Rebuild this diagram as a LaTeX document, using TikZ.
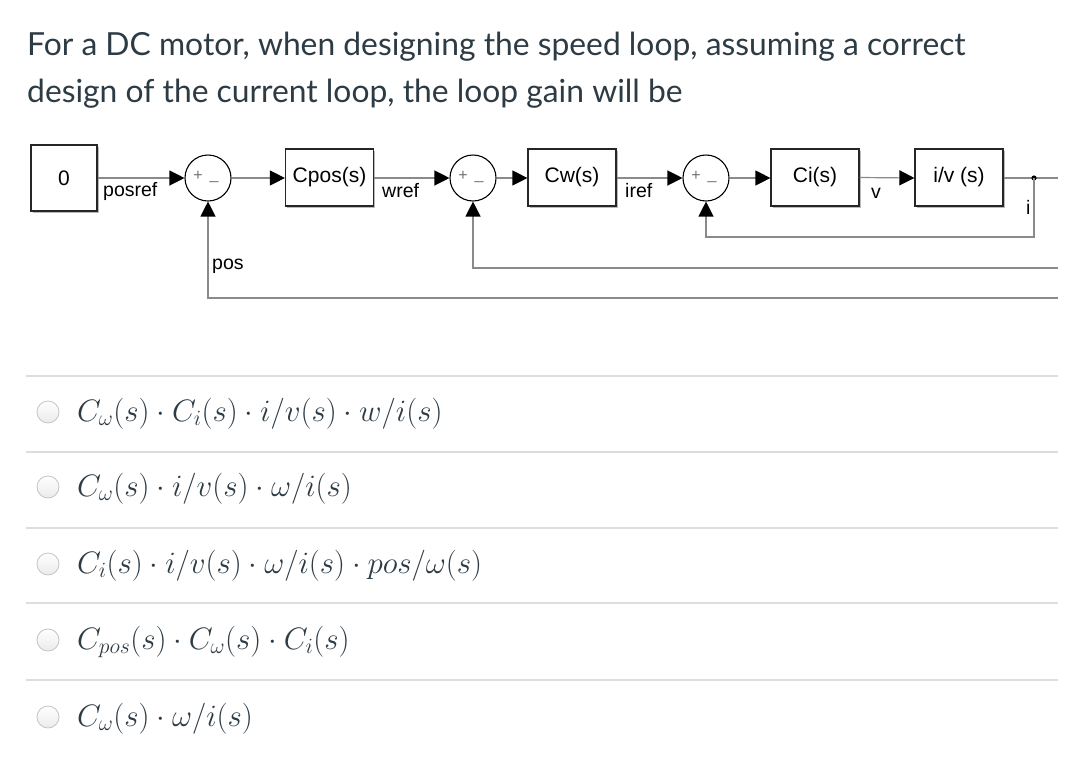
\RequirePackage{fix-cm}
\documentclass[tikz,border=0pt]{standalone}
\usepackage{fontspec}
\setmainfont{Lato}
\newfontfamily\arial{Liberation Sans}
\usetikzlibrary{arrows.meta,shadows}
\definecolor{txt}{HTML}{2D3B45}
\definecolor{wire}{HTML}{8A8A8A}
\definecolor{sep}{HTML}{DDDDDD}
\definecolor{radio}{HTML}{C4C4C4}
\tikzset{
  blk/.style={draw=black!85, line width=1.2pt, fill=white, minimum width=88pt, minimum height=57pt, inner sep=0pt,
    font=\arial\fontsize{21}{24}\selectfont, drop shadow={shadow xshift=1.5pt, shadow yshift=-1.5pt, opacity=0.45, fill=black!60}},
  sumnode/.style={circle, draw=black, line width=1.1pt, fill=white, minimum size=46pt, inner sep=0pt},
  wireline/.style={draw=wire, line width=1.2pt},
  arr/.style={wireline, -{Triangle[length=15pt,width=15pt,color=black]}},
  lbl/.style={font=\arial\fontsize{19.5}{22}\selectfont, inner sep=0pt, text=black},
  sgn/.style={font=\arial\fontsize{16}{18}\selectfont, text=black!55, inner sep=0pt},
  seprule/.style={draw=sep, line width=2pt},
  radiobtn/.style={circle, draw=radio, line width=0.8pt, top color=white, bottom color=black!8, minimum size=22pt, inner sep=0pt},
  titletext/.style={font=\fontsize{31.8}{38}\selectfont, text=txt, inner sep=0pt, anchor=base west},
  opt/.style={font=\fontsize{31}{36}\selectfont, text=txt, inner sep=0pt, anchor=base west}
}
\begin{document}
\begin{tikzpicture}[x=1pt,y=-1pt]
\useasboundingbox (0,0) rectangle (1086,774);
\fill[white] (0,0) rectangle (1086,774);

% title
\node[titletext] (t1) at (27,55) {For a DC motor, when designing the speed loop, assuming a correct};
\node[titletext] (t2) at (27,102) {design of the current loop, the loop gain will be};

% blocks
\node[blk, minimum width=66pt, minimum height=66pt] (b0) at (64,178) {0};
\node[sumnode] (s1) at (208,178) {};
\node[blk] (bpos) at (329.5,177.5) {Cpos(s)};
\node[sumnode] (s2) at (473,178) {};
\node[blk] (bw) at (572,177.5) {Cw(s)};
\node[sumnode] (s3) at (706,178) {};
\node[blk] (bi) at (815,177.5) {Ci(s)};
\node[blk] (biv) at (959,177.5) {i/v (s)};

% signs
\foreach \s in {s1,s2,s3}{
  \node[sgn] at ([shift={(-10,-2)}]\s.center) {+};
  \node[sgn] at ([shift={(6,3)}]\s.center) {\_};
}

\coordinate (tap) at (1034,178);
\coordinate (outend) at (1058,178);
\coordinate (ib) at (1034,237);
\coordinate (wend) at (1058,268);
\coordinate (posend) at (1058,298);

% forward path
\draw[arr] (b0.east) -- (s1.west);
\draw[arr] (s1.east) -- (bpos.west |- s1.east);
\draw[arr] (bpos.east |- s2.west) -- (s2.west);
\draw[arr] (s2.east) -- (bw.west |- s2.east);
\draw[arr] (bw.east |- s3.west) -- (s3.west);
\draw[arr] (s3.east) -- (bi.west |- s3.east);
\draw[arr] (bi.east |- biv.west) -- (biv.west |- s3.east);
\draw[wireline] (biv.east |- tap) -- (outend);
\fill[black] (tap) circle (2.6pt);

% feedback
\draw[arr] (tap) -- (ib) -| (s3.south);
\draw[arr] (wend) -| (s2.south);
\draw[arr] (posend) -| (s1.south);

% labels
\node[lbl, anchor=west] (lposref) at (103,191) {posref};
\node[lbl, anchor=west] (lwref) at (382,191) {wref};
\node[lbl, anchor=west] (liref) at (625,191) {iref};
\node[lbl, anchor=west] (lv) at (871,193) {v};
\node[lbl, anchor=west] (li) at (1026,207) {i};
\node[lbl, anchor=west] (lpos) at (212,266) {pos};

% separators
\foreach \y in {376,452,528,603,680}{
  \draw[seprule] (26,\y) -- (1058,\y);
}

% radio buttons
\node[radiobtn] (r1) at (48,412) {};
\node[radiobtn] (r2) at (48,487) {};
\node[radiobtn] (r3) at (48,564) {};
\node[radiobtn] (r4) at (48,640) {};
\node[radiobtn] (r5) at (48,717) {};

% options
\node[opt] (o1) at (77,421) {$C_\omega(s)\cdot C_i(s)\cdot i/v(s)\cdot w/i(s)$};
\node[opt] (o2) at (77,496) {$C_\omega(s)\cdot i/v(s)\cdot \omega/i(s)$};
\node[opt] (o3) at (77,573) {$C_i(s)\cdot i/v(s)\cdot \omega/i(s)\cdot pos/\omega(s)$};
\node[opt] (o4) at (77,649) {$C_{pos}(s)\cdot C_\omega(s)\cdot C_i(s)$};
\node[opt] (o5) at (77,726) {$C_\omega(s)\cdot \omega/i(s)$};
\end{tikzpicture}
\end{document}
